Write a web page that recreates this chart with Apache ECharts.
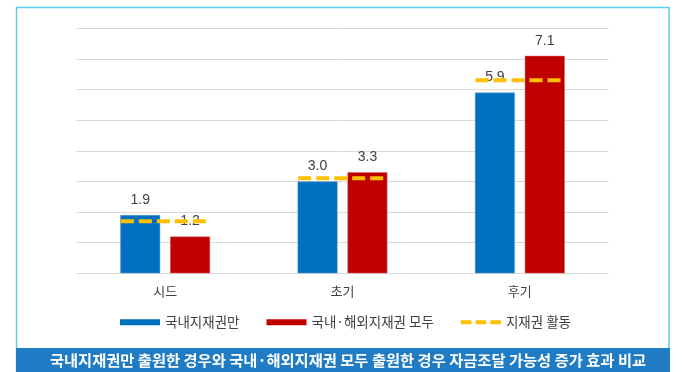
<!DOCTYPE html>
<html><head><meta charset="utf-8">
<script src="https://cdn.jsdelivr.net/npm/echarts@6/dist/echarts.min.js"></script>
<style>html,body{margin:0;padding:0;background:#fff}#c{width:682px;height:372px}</style>
</head><body><div id="c"></div>
<script>
var categories = ['시드', '초기', '후기'];
var domesticOnly = [1.9, 3.0, 5.9];
var domesticOverseas = [1.2, 3.3, 7.1];
var ipActivity = [1.7, 3.1, 6.3];
var seriesNames = ['국내지재권만', '국내·해외지재권 모두', '지재권 활동'];
var bannerText = '국내지재권만 출원한 경우와 국내·해외지재권 모두 출원한 경우 자금조달 가능성 증가 효과 비교';

var FONT = "'Liberation Sans', 'Noto Sans CJK KR', sans-serif";
var chart = echarts.init(document.getElementById('c'), null, {renderer: 'canvas'});
var barLabel = {
  show: true, position: 'top', distance: 8, color: '#404040', fontSize: 14, fontFamily: FONT,
  formatter: function (p) { return p.value.toFixed(1); }
};
chart.setOption({
  animation: false,
  textStyle: {fontFamily: FONT},
  grid: {left: 76.5, right: 73.5, top: 28.3, bottom: 98.7, containLabel: false},
  xAxis: {
    type: 'category', data: categories,
    axisLine: {lineStyle: {color: '#d9d9d9', width: 1}},
    axisTick: {show: false},
    axisLabel: {color: '#404040', fontSize: 13, margin: 11, fontFamily: "'Noto Sans CJK KR', sans-serif"}
  },
  yAxis: {
    type: 'value', min: 0, max: 8, interval: 1,
    axisLabel: {show: false}, axisLine: {show: false}, axisTick: {show: false},
    splitLine: {lineStyle: {color: '#d9d9d9', width: 1}}
  },
  legend: {
    bottom: 38, left: 115, itemWidth: 40, itemHeight: 6, itemGap: 27,
    itemStyle: {borderWidth: 0},
    textStyle: {color: '#404040', fontSize: 13.5, fontFamily: "'Noto Sans CJK KR', sans-serif"},
    data: [
      {name: seriesNames[0], icon: 'rect'},
      {name: seriesNames[1], icon: 'rect'},
      {name: seriesNames[2], icon: 'path://M0,0h10v4h-10z M14,0h10v4h-10z M28,0h10v4h-10z'}
    ]
  },
  graphic: [
    {type: 'rect', shape: {x: 16.5, y: 7.5, width: 652.5, height: 380}, style: {fill: 'none', stroke: '#5ccdef', lineWidth: 1.5}, z: 100},
    {type: 'rect', shape: {x: 16, y: 348, width: 654, height: 24}, style: {fill: '#1f7bc4'}, z: 101},
    {type: 'text', x: 348, y: 360.5, style: {text: bannerText, fill: '#ffffff', font: "bold 15.3px 'Noto Sans CJK KR', sans-serif", textAlign: 'center', textVerticalAlign: 'middle'}, z: 102}
  ],
  series: [
    {name: seriesNames[0], type: 'bar', data: domesticOnly, barWidth: '22.5%', barGap: '25%',
     itemStyle: {color: '#0070c0', borderColor: '#5b9bd5', borderWidth: 0.5}, label: barLabel},
    {name: seriesNames[1], type: 'bar', data: domesticOverseas, barWidth: '22.5%', barGap: '25%',
     itemStyle: {color: '#c00000', borderColor: '#e06060', borderWidth: 0.5}, label: barLabel},
    {name: seriesNames[2], type: 'custom', z: 5,
     itemStyle: {color: '#ffc000'},
     data: ipActivity.map(function (v, i) { return [i, v]; }),
     encode: {x: 0, y: 1},
     renderItem: function (params, api) {
       var p = api.coord([api.value(0), api.value(1)]);
       var band = api.size([1, 0])[0];
       var half = band * 0.25;
       return {
         type: 'line',
         shape: {x1: p[0] - half, y1: p[1], x2: p[0] + half - 3, y2: p[1]},
         style: {stroke: '#ffc000', lineWidth: 4, lineDash: [13, 5], fill: null}
       };
     }}
  ]
});
</script></body></html>
